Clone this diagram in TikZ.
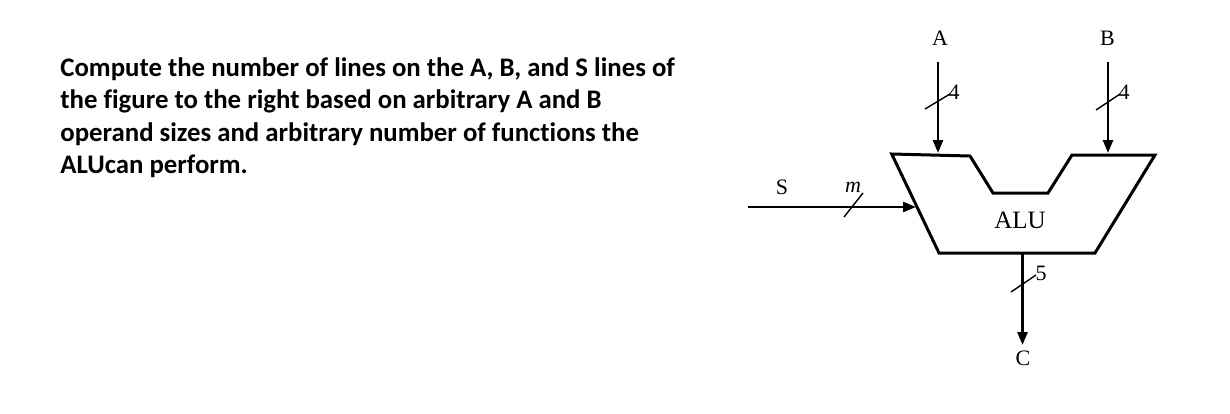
\documentclass[tikz,border=0pt]{standalone}
\usepackage{fontspec}
\setmainfont{Liberation Serif}
\newfontfamily\notefont[Ligatures=NoCommon]{Carlito}
\usetikzlibrary{arrows.meta,positioning}

\begin{document}
\begin{tikzpicture}[
		x=0.5pt, y=-0.5pt,
		bus/.style={draw, line width=1.3pt, -{Triangle[length=6.5pt,width=5pt]}},
		slash/.style={draw, line width=0.7pt},
		alu/.style={draw, line width=1.5pt, line join=miter},
		lbl/.style={inner sep=0pt, font=\fontsize{11}{13}\selectfont},
		note/.style={inner sep=0pt, align=left, font=\notefont\bfseries\fontsize{13.4}{16.25}\selectfont}
	]
	\useasboundingbox (0,0) rectangle (1230,413);

	% Question text
	\node (question) [note, anchor=north west] at (60,57) {Compute the number of lines on the A, B, and S lines of\\the figure to the right based on arbitrary A and B\\operand sizes and arbitrary number of functions the\\ALUcan perform.};

	% ALU body
	\draw [alu] (891.7,154) -- (970,156) -- (993,193) -- (1048,193) -- (1072,155) -- (1155,155) -- (1095,253) -- (939,253) -- cycle;
	\node (alu) [lbl, font=\fontsize{12.5}{14}\selectfont] at (1020,220) {ALU};

	% Labels
	\node (A) [lbl] at (940,38) {A};
	\node (B) [lbl] at (1107.5,38) {B};
	\node (S) [lbl] at (782,187) {S};
	\node (C) [lbl] at (1023,358) {C};
	\node (m) [lbl] at (853,187) {\itshape m};
	\node (wa) [lbl] at (954,92) {4};
	\node (wb) [lbl] at (1124,92) {4};
	\node (wc) [lbl] at (1041,273) {5};

	% Line ends
	\coordinate (a0) at (938,62);
	\coordinate (a1) at (938,153);
	\coordinate (b0) at (1108,62);
	\coordinate (b1) at (1108,153);
	\coordinate (s0) at (748,207);
	\coordinate (s1) at (916,207);
	\coordinate (c0) at (1022.5,253);
	\coordinate (c1) at (1022.5,345);

	% Lines
	\draw [bus] (a0) -- (a1);
	\draw [bus] (b0) -- (b1);
	\draw [bus] (s0) -- (s1);
	\draw [bus] (c0) -- (c1);

	% Width marks
	\draw [slash] (925,109) -- (950,94);
	\draw [slash] (1096,110) -- (1120,94);
	\draw [slash] (844,217) -- (863,193);
	\draw [slash] (1011,292) -- (1036,275);
\end{tikzpicture}
\end{document}
